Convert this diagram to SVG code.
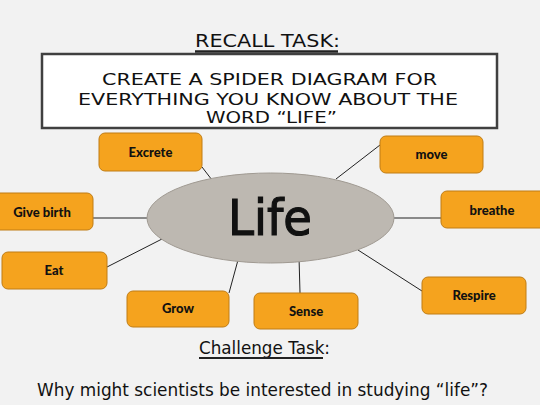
<svg xmlns="http://www.w3.org/2000/svg" width="540" height="405" viewBox="0 0 540 405">
<style>
.bg{fill:#f2f2f2}
.comic{font-family:"DejaVu Sans","Liberation Sans",sans-serif;fill:#111}
.node rect{fill:#f5a31e;stroke:#c07d15;stroke-width:1}
.node text{font-family:Lato,"Liberation Sans",sans-serif;font-weight:900;font-size:13px;fill:#111;text-anchor:middle}
#connectors line{stroke:#222;stroke-width:1}
</style>
<rect class="bg" x="0" y="0" width="540" height="405"/>
<g id="title">
<text class="comic" x="195" y="47" font-size="17" textLength="145" lengthAdjust="spacingAndGlyphs">RECALL TASK:</text>
<line x1="195" y1="51.5" x2="338" y2="51.5" stroke="#222" stroke-width="2.5"/>
</g>
<g id="task-box">
<rect x="42" y="54" width="455" height="74" fill="#fff" stroke="#404040" stroke-width="2.5"/>
<text class="comic" x="102" y="85" font-size="15" textLength="335" lengthAdjust="spacingAndGlyphs">CREATE A SPIDER DIAGRAM FOR</text>
<text class="comic" x="78" y="105" font-size="15" textLength="380" lengthAdjust="spacingAndGlyphs">EVERYTHING YOU KNOW ABOUT THE</text>
<text class="comic" x="206" y="123" font-size="15" textLength="131" lengthAdjust="spacingAndGlyphs">WORD “LIFE”</text>
</g>
<g id="connectors">
<line x1="202" y1="167" x2="212" y2="180"/>
<line x1="93" y1="218" x2="147" y2="218"/>
<line x1="107" y1="267" x2="162" y2="239"/>
<line x1="229" y1="293" x2="238" y2="260"/>
<line x1="300" y1="293" x2="299" y2="257"/>
<line x1="422" y1="291" x2="358" y2="250"/>
<line x1="394" y1="218" x2="441" y2="218"/>
<line x1="336" y1="179" x2="380" y2="145"/>
</g>
<g id="life">
<ellipse cx="270.5" cy="218" rx="123.5" ry="45" fill="#bdb8b1" stroke="#a09a92" stroke-width="1"/>
<text class="comic" x="228" y="235" font-size="50" textLength="84" lengthAdjust="spacingAndGlyphs" stroke="#111" stroke-width="1.2">Life</text>
</g>
<g id="excrete" class="node"><rect x="99" y="133" width="103" height="38" rx="6"/><text x="150.5" y="157">Excrete</text></g>
<g id="give-birth" class="node"><rect x="-6" y="193" width="99" height="37" rx="6"/><text x="42" y="216.5">Give birth</text></g>
<g id="eat" class="node"><rect x="2" y="252" width="105" height="37" rx="6"/><text x="54" y="275">Eat</text></g>
<g id="grow" class="node"><rect x="127" y="291" width="102" height="36" rx="6"/><text x="178" y="313">Grow</text></g>
<g id="sense" class="node"><rect x="254" y="293" width="104" height="36" rx="6"/><text x="306" y="316">Sense</text></g>
<g id="respire" class="node"><rect x="422" y="277" width="104" height="37" rx="6"/><text x="474" y="300">Respire</text></g>
<g id="breathe" class="node"><rect x="441" y="191" width="106" height="37" rx="6"/><text x="492" y="214.5">breathe</text></g>
<g id="move" class="node"><rect x="380" y="136" width="103" height="37" rx="6"/><text x="431.5" y="159">move</text></g>
<g id="challenge">
<text class="comic" x="199" y="354" font-size="17" textLength="131" lengthAdjust="spacingAndGlyphs">Challenge Task:</text>
<line x1="199" y1="358" x2="323" y2="358" stroke="#222" stroke-width="2"/>
<text class="comic" x="37" y="396" font-size="18" textLength="451" lengthAdjust="spacingAndGlyphs">Why might scientists be interested in studying “life”?</text>
</g>
</svg>
